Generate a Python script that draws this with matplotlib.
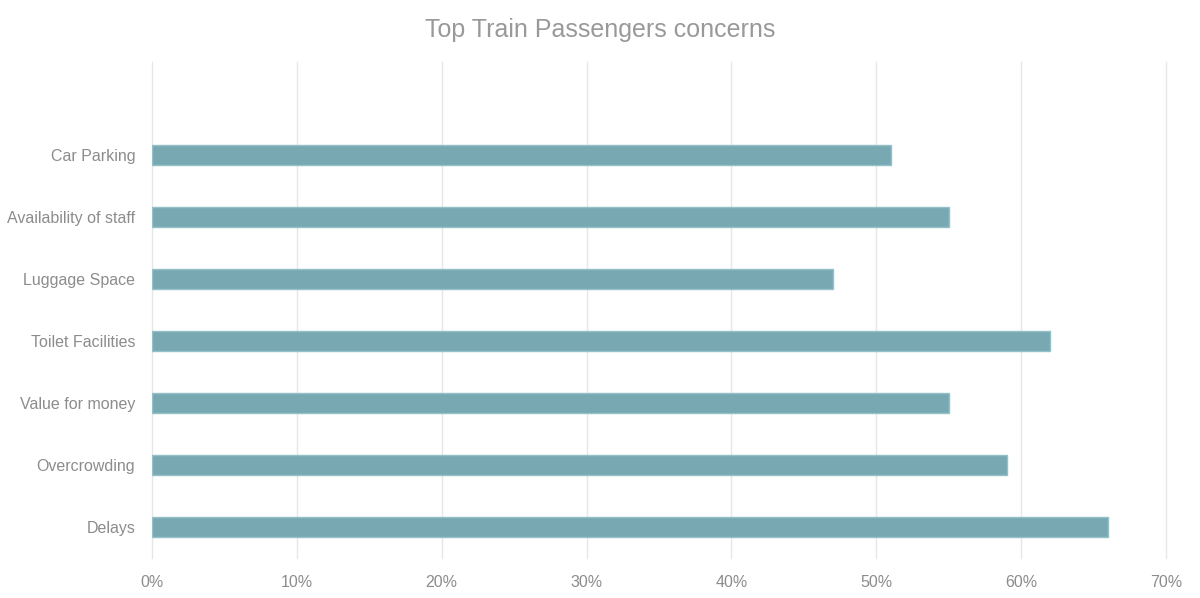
import matplotlib.pyplot as plt
from matplotlib.ticker import FuncFormatter

plt.rcParams['font.family'] = ['Liberation Sans', 'DejaVu Sans']

categories = ['Delays', 'Overcrowding', 'Value for money', 'Toilet Facilities',
              'Luggage Space', 'Availability of staff', 'Car Parking']
values = [66, 59, 55, 62, 47, 55, 51]

text_color = '#8c8c8c'

fig = plt.figure(figsize=(12, 5.98), dpi=100)
ax = fig.add_axes([152 / 1200, 1 - 558 / 598, (1166 - 152) / 1200, (558 - 62) / 598])

ax.barh(range(len(categories)), values, height=0.33,
        color='#78a9b3', edgecolor='#94c0c8', linewidth=1, zorder=3)

ax.set_xlim(0, 70)
ax.set_ylim(-0.5, 7.5)
ax.set_xticks(range(0, 71, 10))
ax.xaxis.set_major_formatter(FuncFormatter(lambda v, p: f'{v:.0f}%'))
ax.set_yticks(range(len(categories)))
ax.set_yticklabels(categories)

ax.grid(axis='x', color='#e6e6e6', linewidth=1, zorder=0)
for gl in ax.get_xgridlines():
    gl.set_clip_on(False)
for s in ax.spines.values():
    s.set_visible(False)
ax.tick_params(length=0, colors=text_color, labelsize=11.5)
ax.tick_params(axis='x', pad=12)
ax.tick_params(axis='y', pad=12)

fig.text(0.5, 1 - 30 / 598, 'Top Train Passengers concerns', ha='center', va='center',
         fontsize=18, color='#999999')

fig.savefig('out.png', dpi=100)
